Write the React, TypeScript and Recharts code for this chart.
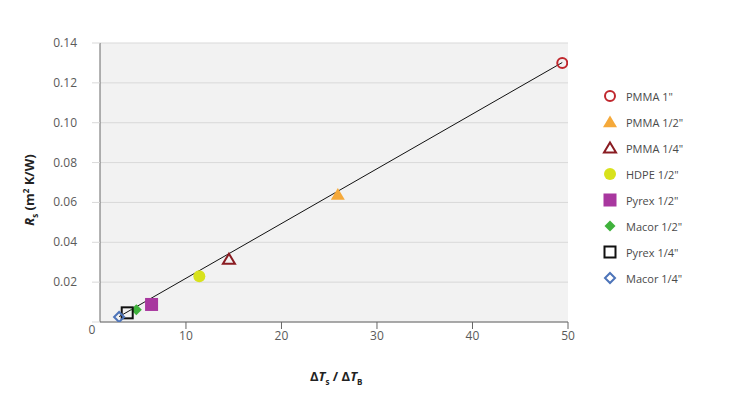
import { ScatterChart, Scatter, XAxis, YAxis, CartesianGrid } from 'recharts';

const seriesNames = ['PMMA 1"', 'PMMA 1/2"', 'PMMA 1/4"', 'HDPE 1/2"', 'Pyrex 1/2"', 'Macor 1/2"', 'Pyrex 1/4"', 'Macor 1/4"'];
const ratioValues = [49.4, 25.9, 14.5, 11.4, 6.4, 4.8, 3.85, 3.0];
const resistanceValues = [0.13, 0.064, 0.0315, 0.023, 0.0088, 0.0062, 0.0046, 0.0025];
const markerKinds = ['circle', 'triangle', 'triangle', 'circle', 'square', 'diamond', 'square', 'diamond'];
const markerColors = ['#c0272d', '#f5a93a', '#8a1c22', '#d8e21c', '#a8379f', '#3fb23c', '#111111', '#4d74b9'];
const markerFilled = [false, true, false, true, true, true, false, false];

const fitX = [3.0, 49.4];
const fitY = [0.0027, 0.1302];

const xTicks = [10, 20, 30, 40, 50];
const yTicks = [0, 0.02, 0.04, 0.06, 0.08, 0.1, 0.12, 0.14];

const fitData = fitX.map((x, i) => ({ x, y: fitY[i] }));
const series = seriesNames.map((name, i) => ({
  name,
  kind: markerKinds[i],
  color: markerColors[i],
  filled: markerFilled[i],
  data: [{ x: ratioValues[i], y: resistanceValues[i] }],
}));

const FONT = '"Open Sans", "Noto Sans", sans-serif';

function Marker({ cx, cy, kind, color, filled }: { cx: number; cy: number; kind: string; color: string; filled: boolean }) {
  const fill = filled ? color : 'none';
  const sw = filled ? 0 : 2;
  if (kind === 'circle') {
    const r = filled ? 6 : 5;
    return <circle cx={cx} cy={cy} r={r} fill={fill} stroke={color} strokeWidth={sw} />;
  }
  if (kind === 'square') {
    const h = filled ? 6.5 : 5.5;
    return <rect x={cx - h} y={cy - h} width={h * 2} height={h * 2} fill={fill} stroke={color} strokeWidth={sw} />;
  }
  if (kind === 'triangle') {
    const h = filled ? 6.5 : 5.5;
    const pts = `${cx},${cy - h} ${cx + h + 0.5},${cy + h * 0.8} ${cx - h - 0.5},${cy + h * 0.8}`;
    return <polygon points={pts} fill={fill} stroke={color} strokeWidth={sw} />;
  }
  const h = filled ? 5.5 : 5;
  const pts = `${cx},${cy - h} ${cx + h},${cy} ${cx},${cy + h} ${cx - h},${cy}`;
  return <polygon points={pts} fill={fill} stroke={color} strokeWidth={sw} />;
}

function YTick(props: any) {
  const { x, y, payload } = props;
  if (payload.value === 0) {
    return (
      <text x={x + 2} y={y + 12} textAnchor="middle" fontSize={12} fill="#5a5a5a" fontFamily={FONT}>
        0
      </text>
    );
  }
  return (
    <text x={x - 13} y={y + 4} textAnchor="end" fontSize={12} fill="#5a5a5a" fontFamily={FONT}>
      {payload.value.toFixed(2)}
    </text>
  );
}

function LegendBox() {
  return (
    <div style={{ position: 'absolute', left: 602, top: 83, fontFamily: FONT, fontSize: 11, color: '#4a4a4a' }}>
      {series.map((s) => (
        <div key={s.name} style={{ display: 'flex', alignItems: 'center', height: 26 }}>
          <svg width={16} height={16} style={{ marginRight: 8 }}>
            <Marker cx={8} cy={8} kind={s.kind} color={s.color} filled={s.filled} />
          </svg>
          <span>{s.name}</span>
        </div>
      ))}
    </div>
  );
}

export default function App() {
  return (
    <div style={{ position: 'absolute', left: 0, top: 0, width: 740, height: 414, background: '#fff' }}>
      <ScatterChart width={740} height={414} margin={{ top: 43, right: 172, bottom: 62, left: 40 }}>
        <CartesianGrid vertical={false} fill="#f2f2f2" stroke="#d9d9d9" horizontalValues={yTicks} />
        <XAxis
          type="number"
          dataKey="x"
          domain={[1, 50]}
          ticks={xTicks}
          allowDataOverflow
          axisLine={{ stroke: '#666', strokeWidth: 1 }}
          tickLine={{ stroke: '#666' }}
          tickSize={7}
          tick={{ fill: '#5a5a5a', fontSize: 12, fontFamily: FONT }}
          height={30}
        />
        <YAxis
          type="number"
          dataKey="y"
          domain={[0, 0.14]}
          ticks={yTicks}
          allowDataOverflow
          axisLine={{ stroke: '#666', strokeWidth: 1 }}
          tickLine={{ stroke: '#d9d9d9' }}
          tickSize={8}
          tick={<YTick />}
          width={60}
        />
        <Scatter
          data={fitData}
          line={{ stroke: '#111', strokeWidth: 1 }}
          shape={() => null}
          legendType="none"
          isAnimationActive={false}
        />
        {series.map((s) => (
          <Scatter
            key={s.name}
            name={s.name}
            data={s.data}
            isAnimationActive={false}
            shape={(p: any) => <Marker cx={p.cx} cy={p.cy} kind={s.kind} color={s.color} filled={s.filled} />}
          />
        ))}
      </ScatterChart>
      <LegendBox />
      <div
        style={{
          position: 'absolute',
          left: 310,
          top: 367,
          fontFamily: FONT,
          fontWeight: 700,
          fontSize: 13,
          color: '#222',
          whiteSpace: 'nowrap',
        }}
      >
        Δ<i>T</i><sub style={{ fontSize: 8 }}>s</sub> / Δ<i>T</i><sub style={{ fontSize: 8 }}>B</sub>
      </div>
      <div
        style={{
          position: 'absolute',
          left: 30,
          top: 190,
          transform: 'translate(-50%, -50%) rotate(-90deg)',
          fontFamily: FONT,
          fontWeight: 700,
          fontSize: 13,
          color: '#222',
          whiteSpace: 'nowrap',
        }}
      >
        <i>R</i>
        <sub style={{ fontSize: 8 }}>s</sub> (m<sup style={{ fontSize: 8 }}>2</sup> K/W)
      </div>
    </div>
  );
}
